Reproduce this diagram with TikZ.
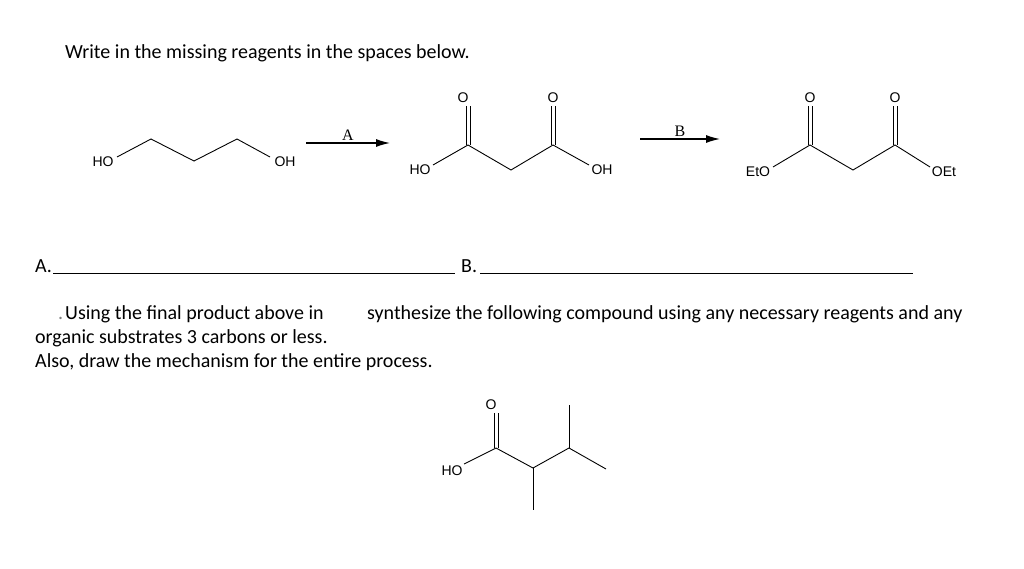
\documentclass[tikz,border=0pt]{standalone}
\usepackage{fontspec}
\setmainfont{Carlito}
\newfontfamily\atomfont{Liberation Sans}
\newfontfamily\reagfont{Liberation Serif}
\usetikzlibrary{arrows.meta}
\begin{document}
\begin{tikzpicture}[x=1pt,y=-1pt,
  bond/.style={line width=0.9pt},
  atom/.style={font=\atomfont\fontsize{14}{14}\selectfont,inner sep=0pt},
  txt/.style={font=\fontsize{20}{22}\selectfont,anchor=base west,inner sep=0pt},
  rxn/.style={line width=1.2pt,-{Latex[length=14pt,width=8pt]}}]
\useasboundingbox (0,0) rectangle (1024,569);

% titel
\node[txt] (title) at (65,59) {Write in the missing reagents in the spaces below.};

% propaandiol
\node[atom] (ho1) at (103,162) {HO};
\node[atom] (oh1) at (285,162) {OH};
\draw[bond] (117,157) -- (151,139) -- (194,161) -- (237,139) -- (270,157);

% pijl A
\coordinate (a1) at (306,143);
\coordinate (a2) at (390,143);
\draw[rxn] (a1) -- (a2) node[midway,above=-1pt,font=\reagfont\fontsize{16}{16}\selectfont] (la) {A};

% malonzuur
\node[atom] (ho2) at (420,170) {HO};
\node[atom] (oh2) at (602,170) {OH};
\node[atom] (o1) at (463,98) {O};
\node[atom] (o2) at (553,98) {O};
\draw[bond] (433,165) -- (468,145) -- (511,170) -- (553,145) -- (589,165);
\draw[bond] (466,145) -- (466,106);
\draw[bond] (470,145) -- (470,106);
\draw[bond] (551,145) -- (551,106);
\draw[bond] (555,145) -- (555,106);

% pijl B
\coordinate (b1) at (640,139);
\coordinate (b2) at (720,139);
\draw[rxn] (b1) -- (b2) node[midway,above=-1pt,font=\reagfont\fontsize{16}{16}\selectfont] (lb) {B};

% diethylmalonaat
\node[atom] (eto) at (758,172) {EtO};
\node[atom] (oet) at (944,172) {OEt};
\node[atom] (o3) at (810,98) {O};
\node[atom] (o4) at (895,98) {O};
\draw[bond] (773,167) -- (810,145) -- (853,170) -- (895,145) -- (930,167);
\draw[bond] (808,145) -- (808,106);
\draw[bond] (812,145) -- (812,106);
\draw[bond] (893,145) -- (893,106);
\draw[bond] (897,145) -- (897,106);

% antwoordregels
\node[txt] (la2) at (35,272) {A.};
\draw[line width=0.6pt] (53,273) -- (455,273);
\node[txt] (lb2) at (461,272) {B.};
\draw[line width=0.6pt] (480,273) -- (913,273);

% opdracht
\node[txt,text=gray] (dot) at (58,319) {.};
\node[txt] (p1) at (65,319) {Using the final product above in};
\node[txt] (p2) at (367,319) {synthesize the following compound using any necessary reagents and any};
\node[txt] (p3) at (35,343) {organic substrates 3 carbons or less.};
\node[txt] (p4) at (35,367) {Also, draw the mechanism for the entire process.};

% doelmolecuul
\node[atom] (ho3) at (452,471) {HO};
\node[atom] (o5) at (491,405) {O};
\draw[bond] (464,464) -- (496,448) -- (533,468) -- (569,448) -- (606,469);
\draw[bond] (494,448) -- (494,413);
\draw[bond] (498,448) -- (498,413);
\draw[bond] (533,468) -- (533,510);
\draw[bond] (569,448) -- (569,405);
\end{tikzpicture}
\end{document}
